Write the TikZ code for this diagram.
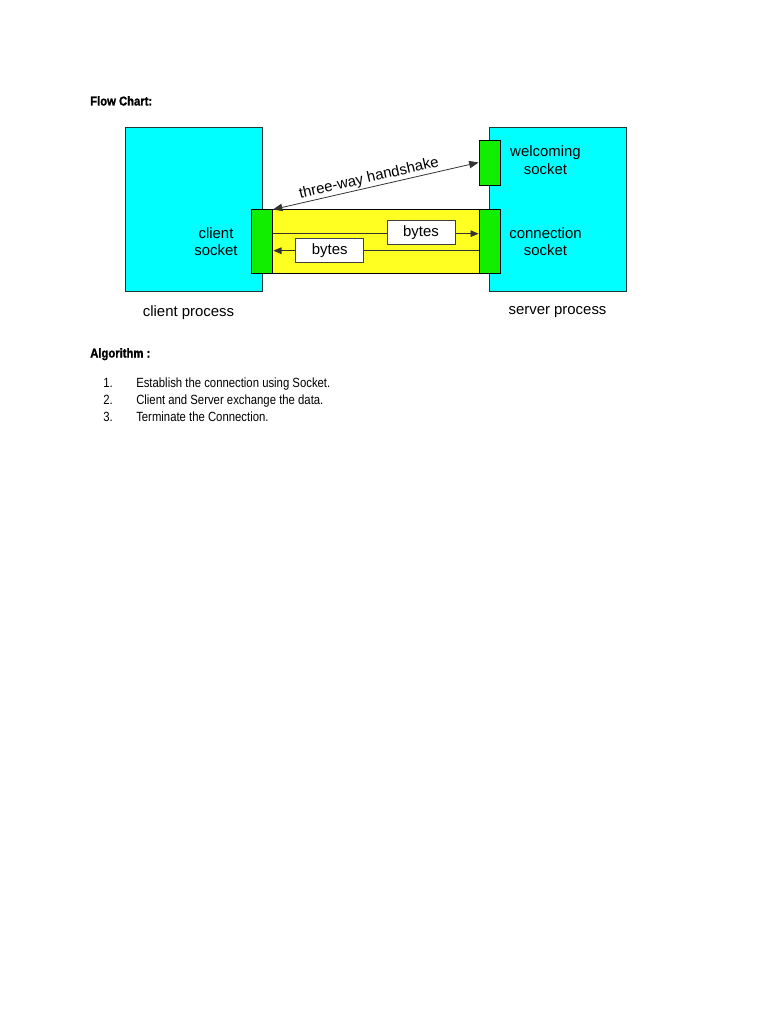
\documentclass[tikz,border=0pt]{standalone}
\usepackage{fontspec}
\setmainfont{Liberation Sans}
\newfontfamily\narrowfont[FakeStretch=0.85]{Liberation Sans}
\newfontfamily\headfont[FakeStretch=0.88,FakeBold=1.2]{Liberation Sans Bold}
\usetikzlibrary{arrows.meta}
\definecolor{boxcyan}{HTML}{00FFFF}
\definecolor{sockgreen}{HTML}{11EE00}
\definecolor{pipeyellow}{HTML}{FFFF22}
\definecolor{edgedark}{HTML}{1A3A3A}
\tikzset{
  proc/.style={draw=edgedark, fill=boxcyan, line width=0.7pt},
  sock/.style={draw=black, fill=sockgreen, line width=0.7pt},
  pipe/.style={draw=black, fill=pipeyellow, line width=0.7pt},
  lbl/.style={font=\fontsize{11.2pt}{13pt}\selectfont, inner sep=0pt, align=center},
  bytebox/.style={draw=black!75, fill=white, line width=0.6pt, minimum width=51pt, minimum height=18pt, inner sep=0pt, font=\fontsize{11.2pt}{13pt}\selectfont},
  flow/.style={draw=black!80, line width=0.6pt},
  tip/.style={-{Triangle[length=6pt,width=5pt]}},
  head/.style={font=\headfont\fontsize{9.6pt}{11pt}\selectfont, inner sep=0pt, anchor=base west},
  item/.style={font=\narrowfont\fontsize{10pt}{12pt}\selectfont, inner sep=0pt, anchor=base west},
}
\begin{document}
\begin{tikzpicture}[x=0.75pt,y=-0.75pt]
\useasboundingbox[fill=white] (0,0) rectangle (768,1024);
% process boxes
\path[proc] (125.5,127.5) rectangle (262.5,291);
\path[proc] (489,127.5) rectangle (626,291);
% pipe
\path[pipe] (272.5,209.5) rectangle (479,273);
% sockets
\node[sock, minimum width=15.8pt, minimum height=48pt, inner sep=0pt] (cs) at (262.2,241.3) {};
\node[sock, minimum width=15.8pt, minimum height=48pt, inner sep=0pt] (ks) at (489.5,241.3) {};
\node[sock, minimum width=15.8pt, minimum height=34pt, inner sep=0pt] (ws) at (489.5,163) {};
% handshake
\coordinate (hsA) at (273,209.5);
\coordinate (hsB) at (478.5,162.5);
\draw[flow, {Triangle[length=7pt,width=5.5pt]}-{Triangle[length=7pt,width=5.5pt]}] (hsA) -- (hsB);
\node[lbl, rotate=12.9] (hs) at (369,178.5) {three-way handshake};
% byte flows
\coordinate (upL) at (272.5,233.7);
\coordinate (upR) at (478.5,233.7);
\coordinate (loL) at (273.5,250.7);
\coordinate (loR) at (479,250.7);
\draw[flow, tip] (upL) -- (upR);
\draw[flow, tip] (loR) -- (loL);
\node[bytebox] (b1) at (421,232.3) {bytes};
\node[bytebox] (b2) at (329.7,250.3) {bytes};
% labels
\node[lbl] (cl) at (216,241.5) {client\\socket};
\node[lbl] (wl) at (545.5,160) {welcoming\\socket};
\node[lbl] (kl) at (545.5,241.5) {connection\\socket};
\node[lbl] (cp) at (188.5,312.5) {client process};
\node[lbl] (sp) at (557.5,312.5) {server process};
% headings and algorithm
\node[head] (fc) at (90,105.5) {Flow Chart:};
\node[head] (al) at (90,357.5) {Algorithm :};
\node[item] (n1) at (103,387.5) {1.};
\node[item] (n2) at (103,404.5) {2.};
\node[item] (n3) at (103,421.5) {3.};
\node[item] (t1) at (136,387.5) {Establish the connection using Socket.};
\node[item] (t2) at (136,404.5) {Client and Server exchange the data.};
\node[item] (t3) at (136,421.5) {Terminate the Connection.};
\end{tikzpicture}
\end{document}
